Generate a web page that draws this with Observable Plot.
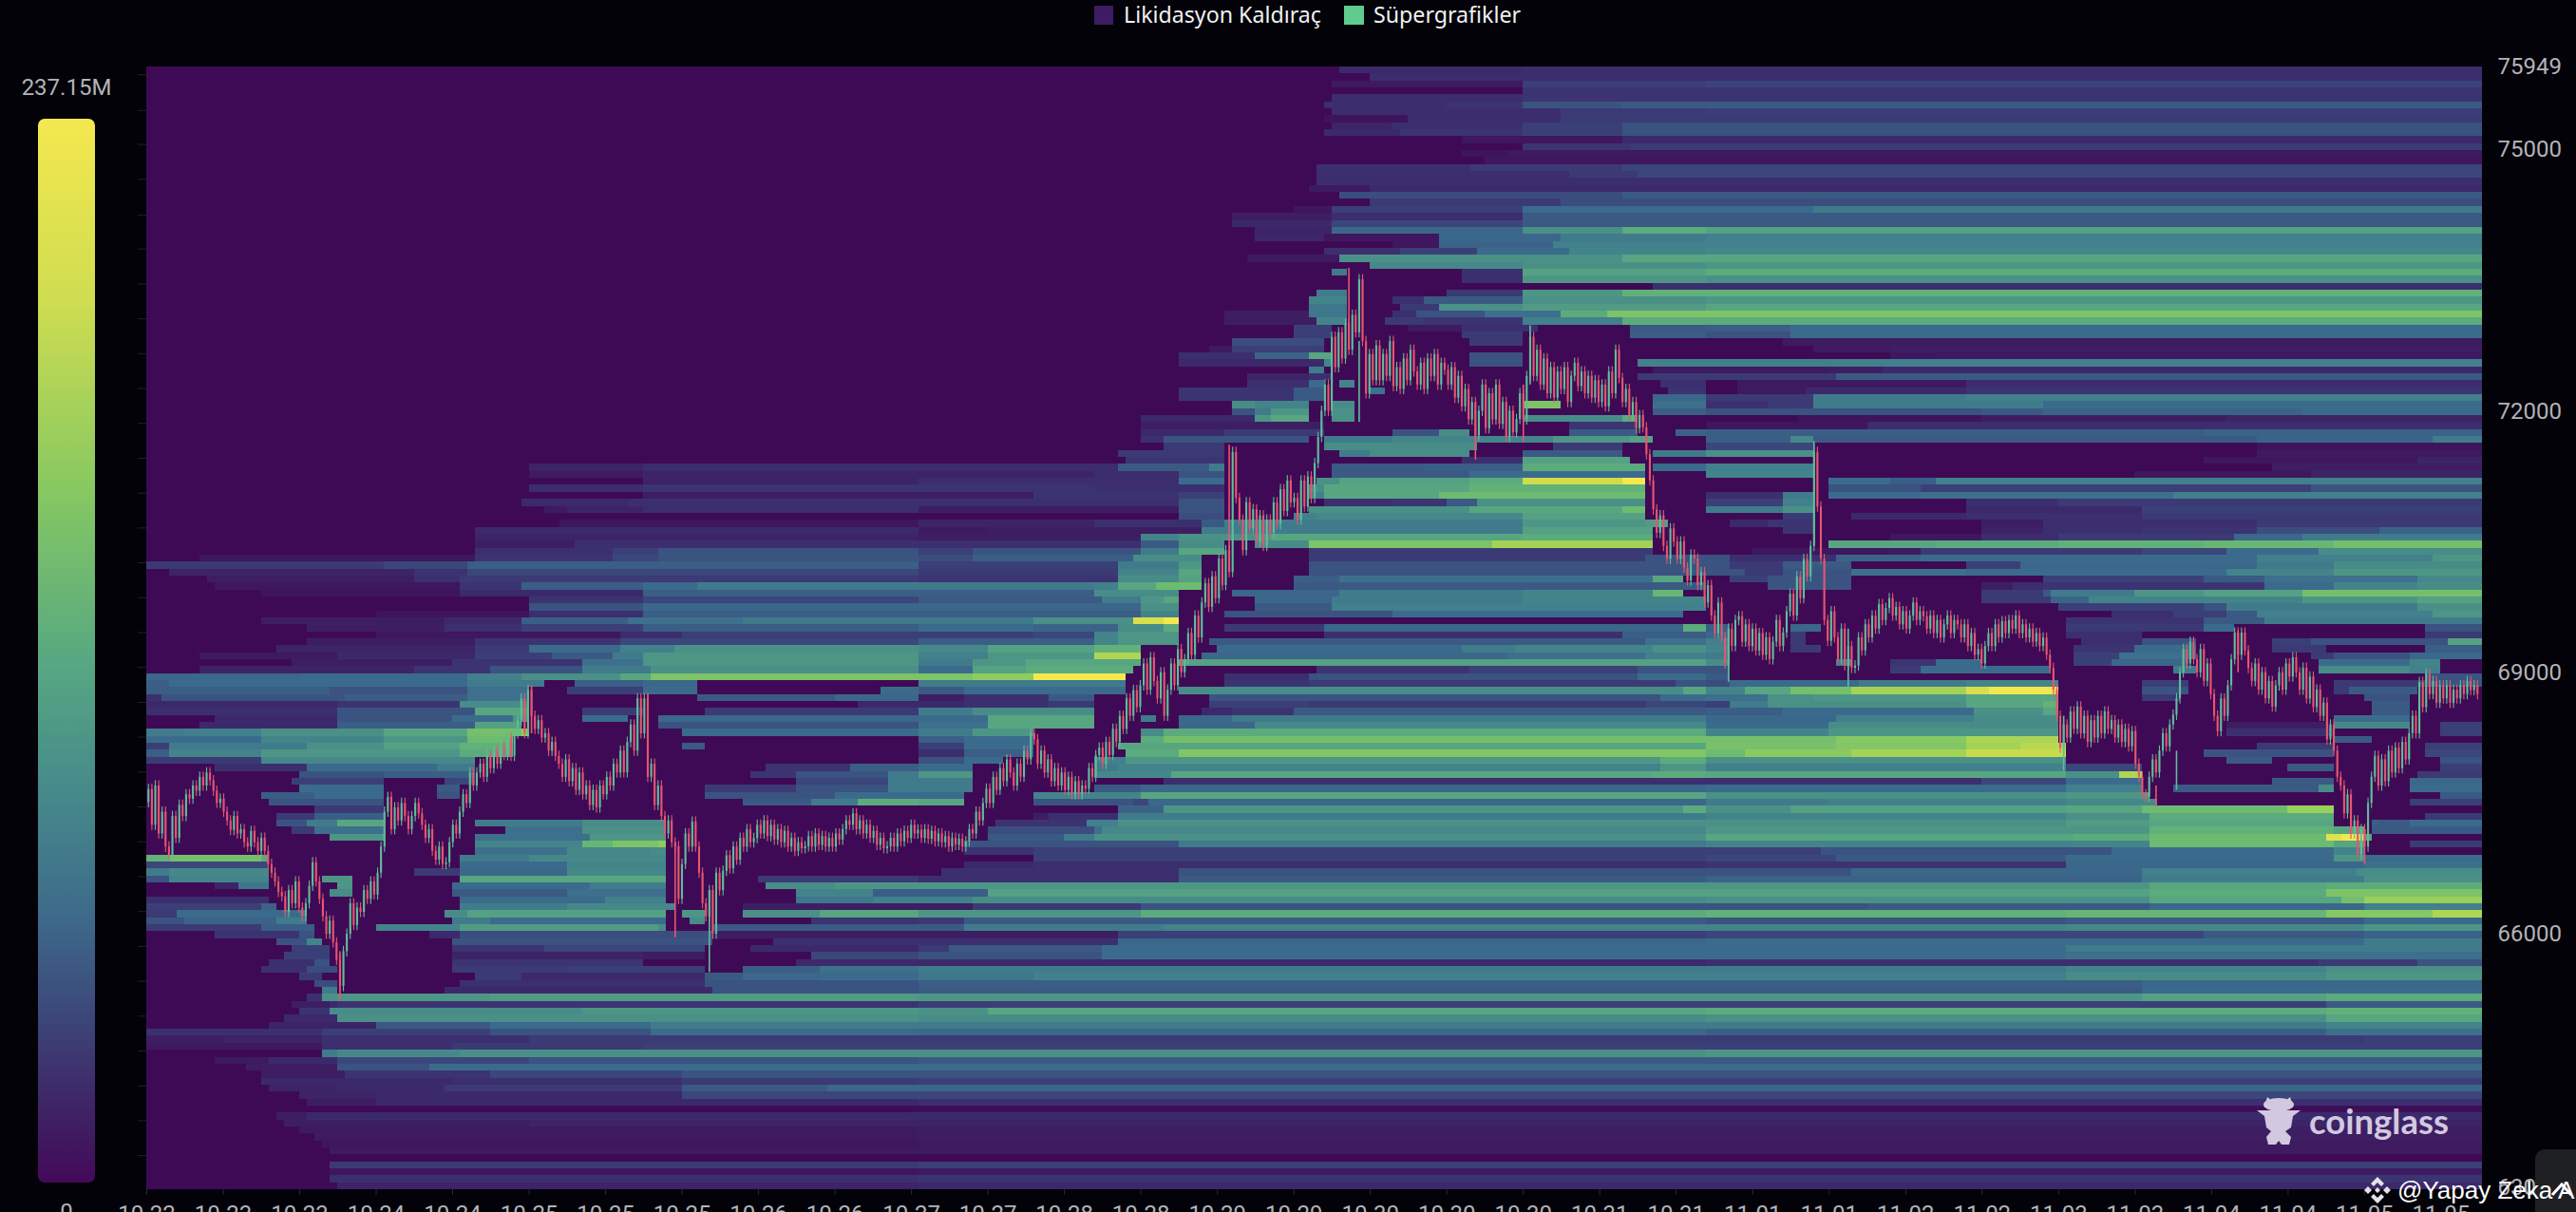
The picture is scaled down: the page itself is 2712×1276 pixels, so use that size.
<!DOCTYPE html>
<html>
<head>
<meta charset="utf-8">
<script src="https://cdn.jsdelivr.net/npm/d3@7"></script>
<script src="https://cdn.jsdelivr.net/npm/@observablehq/plot@0.6"></script>
<style>
html,body{margin:0;padding:0;background:#020208;overflow:hidden}
#page{position:relative;width:2712px;height:1276px;overflow:hidden;background:#020208;font-family:Roboto,sans-serif}
#page>*{position:absolute}
svg{display:block}
</style>
</head>
<body>
<div id="page"></div>
<script>
// Value stops (millions) and colours of the heat scale
const heatStops=[0,12,28,45,65,85,105,125,145,165,190,215,237];
const heatColors=["#3f0a55","#3e1a60","#3c2d6e","#3b3f78","#3a5a84","#3b6b8c","#41808c","#4a9087","#57a681","#6cbb70","#98d05a","#d0dc4b","#f4e84f"];
const barStops=[[0,"#f4e84f"],[.17,"#cfdd50"],[.35,"#86c862"],[.51,"#57a882"],[.63,"#468a8a"],[.75,"#3d6a8a"],[.85,"#3c4478"],[.94,"#3f2063"],[1,"#44095a"]];

const priceTicks=[75949,75000,72000,69000,66000];
const leftTicks=[75860,75450,75060,74660,74250,73860,73460,73060,72660,72260,71860,71460,71060,70660,70260,69860,69460,69060,68660,68260,67860,67460,67060,66660,66260,65860,65460,65060,64660,64260,63860,63460];
const dateLabels=["10-22","10-23","10-23","10-24","10-24","10-25","10-25","10-25","10-26","10-26","10-27","10-27","10-28","10-28","10-29","10-29","10-30","10-30","10-30","10-31","10-31","11-01","11-01","11-02","11-02","11-03","11-03","11-04","11-04","11-05","11-05"];

// Liquidity per price band, top band first: "start:valueM" runs along time (start in tenths of a date tick)
const liquidationBands=[
"0:0 156:25 180:28","0:0 160:28","0:0 155:12 180:45 204:48","0:0 180:35","0:0 155:28 180:35",
"0:0 154:28 170:35 180:60 193:65","0:0 155:28 185:40 204:45","0:0 154:8 165:28 185:42","0:0 155:20 163:30 180:45 193:60","0:0 154:25 164:35 180:45 193:60",
"0:0 172:10 193:25","0:0 180:35 194:42","0:0 172:8 178:12","0:0 175:10","0:0 153:30 173:40 193:50",
"0:0 153:28 186:40 195:50","0:0 153:28","0:0 152:12 160:25","0:0 156:55 193:65","0:0 160:40 185:55",
"0:0 150:10 155:45 180:85 218:100","0:0 142:15 155:28 180:65","0:0 142:25 155:50 180:65","0:0 145:20 155:80 180:125 193:150 204:140","0:0 145:22 154:10 169:80 185:100 204:105",
"0:0 163:10 169:75 184:105","0:0 154:30 164:45 174:85 186:110 204:115","0:0 144:12 156:125 193:145","0:0 160:115 180:125 204:130","0:0 155:100 157:0 172:30 180:140 204:150",
"0:0 172:30 180:130 204:125","0:0 197:30","0:0 153:100 157:0 170:40 180:130 193:155","0:0 152:110 157:0 163:30 167:65 180:125 204:130","0:0 152:95 157:0 164:40 169:125 180:135 204:145",
"0:0 141:15 152:95 157:0 163:30 166:60 175:90 185:150 191:175","0:0 141:15 153:110 157:0 162:40 167:35 180:105 193:150","0:0 150:45 155:0 165:12 172:30 182:0 194:65 204:70 215:85","0:0 150:45 155:0 172:40 180:0 194:70 204:60 215:85","0:0 142:55 154:0 173:40 180:0 214:12",
"0:0 139:12 142:45 154:0 218:12 228:15","0:0 135:30 145:75 152:145 155:0 173:60 180:0 228:10 234:12","0:0 135:25 154:110 155:0 173:60 180:0 195:105","0:0 152:100 154:0 197:12 220:15 227:25","0:0 144:20 152:30 155:0 195:40 221:65",
"0:0 144:30 152:85 154:0 156:110 158:0 198:30 204:0 208:12 238:28","0:0 135:35 150:65 154:0 160:90 162:0 199:35 204:0 208:12 217:25 238:35","0:0 135:35 150:65 154:0 197:80 204:40 218:100 238:105","0:0 142:120 145:110 152:0 155:120 158:0 180:175 185:0 197:90 204:30 212:40 218:100 248:85","0:0 142:60 145:100 147:130 152:0 155:125 158:0 197:70 204:60 240:65 248:75 282:85",
"0:0 130:25 145:130 147:145 152:0 155:125 158:0 180:120 193:150 195:0 216:8 240:15 272:20","0:0 130:15 154:0 186:35 195:0 204:10 225:28","0:0 130:25 141:40 154:0 163:60 169:120 173:0 186:65 195:0 200:75 204:70 269:75","0:0 130:30 133:60 152:0 154:100 163:110 184:130 194:140 197:0 204:70 215:115 218:65 276:75 299:100","0:0 133:40 141:0 154:120 174:0 184:40 193:0 204:50 218:0 276:8",
"0:0 127:40 141:0 156:100 160:120 173:0 180:65 193:0 197:100 204:125 218:0 276:12","0:0 128:35 141:0 172:30 180:140 194:0 269:10 297:20","0:0 50:20 65:28 127:65 139:100 141:0 155:65 167:70 180:150 196:0 197:85 204:105 218:0 278:15","0:0 50:12 65:20 124:28 135:60 141:0 155:65 173:85 196:0 204:110 218:0 260:10 283:20","0:0 65:20 101:28 135:85 141:0 153:125 156:140 173:150 180:215 193:237 196:0 220:85 228:70 234:105",
"0:0 50:28 65:35 124:30 141:0 152:120 154:145 173:155 196:0 220:60 232:45 283:60","0:0 65:15 116:35 135:45 141:0 152:105 154:145 169:165 196:0 204:30 214:100 218:0 220:85 232:90 265:105","0:0 49:25 63:30 135:60 141:0 154:30 163:35 170:65 174:125 196:0 204:45 214:105 218:0 238:30 250:40","0:0 52:12 55:20 65:28 101:15 135:60 141:0 152:125 173:145 193:165 196:0 204:100 214:125 218:0 238:25 261:45","0:0 135:55 141:0 150:105 153:115 180:140 196:0 214:40 218:0 223:25 238:30 261:40",
"0:0 54:10 101:20 124:30 138:65 141:100 180:130 196:135 199:0 207:25 212:35 218:0 240:15 248:30 276:40","0:0 43:25 101:12 110:15 138:100 180:140 197:0 214:35 218:0 240:20 248:30 261:35 276:55 292:75","0:0 43:20 101:15 130:110 135:125 145:130 147:145 180:150 197:0 228:10 240:28 250:40 273:80 282:100","0:0 43:15 56:30 110:30 130:65 135:120 141:0 145:120 152:175 176:195 197:0 220:145 234:150 250:155 269:160 286:170","0:0 43:30 61:45 67:60 101:45 108:60 130:100 135:145 141:0 152:40 197:0 210:10 228:12 232:40 261:50 272:85 284:120",
"0:0 7:10 43:35 61:50 67:60 101:55 108:70 129:120 138:0 152:40 196:60 207:30 221:75 232:85 276:105 299:130","0:40 31:50 42:70 101:45 127:100 135:130 138:0 152:60 197:60 207:40 214:65 223:0 238:45 245:80 276:100 286:120","0:0 3:20 35:35 42:50 101:40 127:110 135:145 138:0 152:60 197:60 209:40 214:60 223:90 238:85 272:110 286:130","0:0 8:15 35:30 41:40 101:35 127:120 135:140 138:0 150:70 156:90 197:145 201:0 207:45 212:60 223:0 248:45 269:65 277:90 297:115","0:0 9:10 41:35 49:70 65:85 72:100 124:105 127:145 132:165 138:0 150:65 197:65 204:0 212:60 223:0 240:15 244:28 248:35 277:85 286:110 297:120",
"0:0 15:8 41:25 65:70 124:120 135:0 142:80 156:100 180:110 197:160 201:0 240:40 248:65 249:100 260:130 269:140 282:170","0:0 50:35 65:50 101:65 125:100 130:130 133:145 135:0 145:80 155:100 180:110 204:0 240:40 249:75 254:110 282:130 297:140","0:0 50:60 65:80 130:125 135:0 145:65 155:105 204:0 250:45 269:60 272:100 297:125","0:0 30:8 50:30 65:70 130:110 135:0 141:60 163:85 201:0 257:30 265:45 272:65 276:105 299:130","0:0 15:15 39:25 49:70 63:90 78:100 116:125 129:220 133:237 135:0 251:35 269:65 277:100",
"0:0 21:15 39:30 49:45 65:70 101:85 116:75 127:120 133:150 135:0 141:40 154:80 201:150 204:70 207:0 215:80 219:0 251:40 269:85 273:0 298:60","0:0 30:10 62:28 70:45 116:50 124:110 127:130 135:0 154:30 193:70 204:80 207:0 215:40 217:0 251:30 261:0 298:40","0:0 21:15 43:35 62:50 101:70 124:110 127:130 135:0 139:65 196:90 204:105 207:0 215:40 217:0 253:30 261:60 268:0 278:45 283:60 301:140","0:0 17:20 43:40 50:85 62:105 69:125 101:115 110:140 124:155 130:0 140:85 172:100 179:110 197:125 204:110 207:0 215:40 219:0 252:35 260:85 268:0 278:40 285:0 298:70","0:0 7:12 25:25 43:45 53:65 61:100 65:130 101:105 110:130 124:200 130:0 138:80 178:90 196:105 204:100 207:0 219:0 252:45 258:90 268:0 283:40 286:60 296:80",
"0:0 19:15 40:35 57:90 65:130 101:100 108:130 115:145 130:0 135:140 204:120 207:0 221:105 223:0 228:35 234:85 240:0 252:45 257:80 267:0 284:85 296:110 300:0","0:0 7:20 35:35 45:60 57:100 66:125 101:85 108:140 115:150 129:0 153:35 173:45 195:60 207:0 228:40 232:85 249:0 265:100 268:0 284:120 296:105 300:0","0:80 20:85 42:105 49:125 62:145 66:175 108:185 116:237 128:0 141:30 152:60 195:85 204:65 207:0 298:60","0:70 3:85 42:100 52:0 56:70 65:80 72:0 101:100 128:0 141:35 152:40 200:60 204:55 207:85 224:100 238:110 250:0 261:45 267:0 286:40 298:60","0:70 24:60 42:90 50:0 55:45 65:85 72:0 96:85 101:65 107:85 128:0 135:120 201:145 204:110 209:145 215:170 223:195 238:220 241:235 250:0 261:60 267:0 286:40 288:65 297:0",
"0:30 2:60 26:70 42:90 50:0 72:65 90:80 101:15 107:30 118:65 124:0 139:60 198:85 204:90 212:125 218:130 238:145 250:0 261:40 266:0 290:60 296:0","0:25 25:35 41:120 50:0 93:25 107:30 118:40 124:0 139:45 152:40 196:50 204:45 207:100 212:125 238:145 248:155 250:0 291:65 296:0","0:30 25:60 43:145 50:0 57:40 65:0 73:40 101:100 108:120 124:0 138:25 142:35 150:65 204:70 214:85 239:125 248:145 250:0 291:65 296:0","0:0 9:25 25:60 40:85 48:130 50:0 57:85 63:0 67:80 101:85 110:145 124:0 130:100 132:0 135:80 142:100 204:80 221:105 239:120 250:0 286:85 296:0","0:0 7:25 25:70 43:140 49:0 67:60 101:90 110:145 124:0 135:80 145:115 204:85 220:120 250:0 272:15 286:115 296:0 300:45",
"0:100 5:105 15:125 31:145 42:170 49:185 50:0 70:85 101:100 108:130 116:0 130:120 133:150 204:110 220:130 250:0 272:30 286:0 300:45","0:85 15:110 31:130 42:165 48:0 101:70 107:85 116:0 130:150 133:170 221:180 238:198 250:0 286:65 291:0","0:45 3:100 21:125 31:140 41:155 48:0 70:65 73:0 101:45 107:85 116:0 127:145 204:172 221:178 238:195 245:205 251:0 276:40 286:0 298:45","0:70 3:110 15:130 41:150 48:0 101:30 107:70 116:0 128:150 135:178 204:165 209:182 223:195 238:212 251:0 269:60 286:0 298:50","0:40 15:115 43:0 101:60 107:85 112:0 124:105 128:130 198:150 204:125 251:0 272:65 278:0 300:60",
"0:0 9:30 21:85 38:100 43:0 81:35 92:70 101:85 108:0 124:100 127:110 198:130 204:105 251:50 261:0 280:65 286:0 300:45","0:0 20:60 31:70 43:0 79:35 85:60 97:100 101:130 108:0 124:115 134:145 197:150 204:145 251:125 258:200 261:0 297:40","0:0 19:45 31:0 39:50 43:0 85:50 97:100 108:0 133:30 204:30 240:50 251:85 261:0 278:65 286:0 296:80","0:0 20:85 31:0 38:65 41:0 73:40 85:60 97:100 108:0 124:65 130:80 204:85 251:105 261:0 265:65 284:120 286:0 296:85","0:0 15:70 22:85 31:0 38:60 41:0 73:60 90:85 107:0 116:110 130:145 204:125 251:130 262:0 300:65",
"0:0 16:60 31:0 78:65 87:100 93:150 101:145 107:0 116:60 129:50 131:80 204:100 220:105 251:115 263:0 296:45","0:0 22:40 31:0 127:75 133:130 201:150 204:125 215:140 251:145 261:165 280:190 286:0","0:0 17:40 22:70 31:0 116:15 118:30 127:100 204:110 251:125 262:150 286:0 298:40","0:0 17:60 21:100 25:145 31:0 43:100 57:120 68:0 111:35 123:105 127:125 251:135 262:145 286:0 291:70 292:65 296:85","0:0 19:40 22:90 31:0 47:90 57:125 68:0 110:55 124:90 125:115 204:130 262:155 286:145 290:0 291:65",
"0:0 24:130 31:0 43:90 58:130 68:0 110:65 120:100 124:125 204:145 252:150 262:165 285:225 287:237 290:145 291:0","0:0 43:110 57:160 61:175 67:185 68:0 107:60 135:100 204:110 262:165 286:145 290:0 296:40","0:0 43:90 55:115 66:120 68:0 107:35 116:45 219:60 257:85 286:110 290:0","0:155 3:170 15:150 16:0 41:100 50:115 68:0 116:45 204:50 221:65 251:85 286:130 290:85","0:50 16:0 41:85 55:110 68:0 107:25 116:30 204:35 251:80 290:90",
"0:100 3:115 16:0 35:40 41:80 55:115 68:0 104:30 135:60 223:80 261:105 289:120","0:60 3:110 16:0 23:130 27:0 41:145 68:0 80:40 101:28 135:65 204:75 261:100 290:125","0:0 9:20 12:95 16:0 25:130 27:0 40:85 58:100 68:0 81:120 90:130 262:145 285:150","0:0 24:120 27:0 40:65 55:90 68:0 85:110 95:70 110:140 262:150 285:175","0:30 16:0 41:85 60:105 68:0 85:95 95:105 108:120 204:125 262:145 287:170 290:190",
"0:45 15:75 17:0 41:100 55:115 69:0 78:15 108:40 130:60 225:65 262:80 290:105","0:40 4:85 20:90 21:0 39:120 42:140 68:0 70:130 73:0 78:125 88:145 101:130 130:150 204:155 251:160 285:180 299:200","0:60 5:75 17:100 21:0 40:100 45:85 68:0 71:120 73:0 87:35 101:40 107:65 204:60 251:65 290:85","0:40 15:70 22:0 30:110 41:135 67:120 68:0 74:65 107:100 133:110 251:115 290:130","0:0 9:35 20:60 22:0 37:25 41:55 74:15 127:45 204:50 269:65 290:75",
"0:0 17:60 21:110 23:0 40:60 74:0 82:30 127:80 204:85 290:100","0:0 19:45 24:0 40:35 52:50 73:0 79:25 101:40 105:65 125:85 251:100","0:0 18:45 24:0 40:20 65:15 73:0 87:50 101:60 125:85 251:90","0:0 16:30 22:60 24:0 40:35 65:0 85:25 204:30 284:40 297:60","0:0 15:30 21:55 25:0 40:40 55:45 73:0 78:70 88:90 101:100 251:110 285:125",
"0:0 20:40 23:0 43:40 49:25 73:65 78:80 88:85 101:95 116:105 251:120 285:130","0:0 22:55 25:0 41:30 73:60 101:70 261:80","0:0 23:100 25:0 39:25 74:60 101:65 261:85","0:0 21:30 23:125 25:130 45:135 101:130 261:140 285:150","0:0 19:15 24:25 25:35 101:45 285:65",
"0:0 20:35 24:120 57:130 101:125 110:145 204:150 285:155","0:0 18:25 25:125 101:120 204:125 285:145","0:0 16:20 30:65 45:85 66:100 285:110","0:30 23:45 45:60 66:85 101:80 204:70 285:90","0:15 10:20 23:30 50:40 290:45",
"0:12 23:30 40:40 65:45","0:0 23:100 25:115 41:125 204:130","0:0 9:12 16:25 25:50 50:60 101:65","0:0 13:15 25:60 37:85","0:0 15:15 26:35 45:50 70:60",
"0:0 15:25 40:30 70:40 101:45","0:0 16:20 25:25 39:40 70:65 89:80","0:0 20:20 30:25 70:50","0:0 21:15 30:25 101:30","0:0 100:3",
"0:0 17:15 21:25","0:0 18:15 50:20","0:0 20:12 101:15","0:0 22:12 101:15","0:0 23:10 101:12",
"0:0 24:12","0:0","0:0 24:40 101:45","0:0 24:10 101:12","0:0 24:30 101:35","0:0 25:20 101:25"
];
const topPrice=75949, bandSize=80, bottomPrice=63069;

// Half-hour closes in blocks (block start index, closes)
const candleRuns=[
[0,[67660,67250,67700,67150,67400,67000,66900,67350,67100,67480,67350,67600,67550,67700,67640,67800,67700,67850,67760,67640,67500,67550,67400,67300,67190,67350,67150,67200,67050,67000,67180,67050,66950,67100,66950,66800,66700,66600,66480,66430]],
[40,[66250,66500,66350,66600,66300,66200,66350,66550,66820,66600,66400,66200,66000,66150,65900,65700,65400,65800,66000,66350,66100,66300,66250,66500,66400,66600,66450,66700,67000,67400,67570,67200,67450,67300,67500,67350,67200,67350,67500,67380]],
[80,[67250,67100,67200,66950,66850,67000,66800,66820,67050,67250,67150,67400,67600,67500,67850,67700,67850,67950,67800,68050,67900,68100,67950,68150,68050,68250,68040,68300,68450,68700,68300,68795,68500,68350,68450,68250,68300,68100,68200,68040]],
[120,[67950,67800,68000,67750,67900,67650,67850,67600,67700,67476,67650,67450,67700,67600,67800,67700,67950,67850,68100,67852,68200,68400,68100,68700,68300,68701,67800,67950,67476,67700,67350,67150,67300,67050,67004,66400,66800,67150,67000,67287]],
[160,[67000,66700,66350,66200,66500,66000,66700,66500,66721,66900,66750,67000,66850,67100,67000,67200,67050,67098,67250,67150,67300,67120,67250,67080,67200,67050,67180,67000,67100,66950,67050,66980,67004,67120,67000,67150,67020,67120,67000,67100]],
[200,[67000,67150,67080,67200,67300,67250,67381,67200,67300,67150,67250,67100,67180,67020,67100,66980,67004,67100,67000,67150,67060,67180,67100,67250,67150,67193,67100,67200,67090,67180,67060,67150,67050,67120,67000,67100,67020,67090,67000,67061]],
[240,[67200,67150,67400,67300,67500,67664,67500,67800,67650,67900,67750,68000,67850,67700,67950,67800,68100,68000,68300,68230,67950,68100,67850,68000,67750,67900,67700,67850,67650,67800,67600,67750,67600,67700,67664,67900,67800,68050,68135,67950]],
[280,[68200,68050,68350,68200,68500,68350,68700,68500,68795,68600,68850,69100,68800,69172,68900,68700,69000,68500,68800,69100,68850,69266,69000,69150,69450,69200,69650,69400,69800,70020,69750,70100,69850,70303,70000,70400,70150,71528,71000,70750]],
[320,[70400,70950,70650,70869,70500,70800,70450,70750,70600,70950,70700,71100,70850,71200,70950,71000,70750,71200,70900,71246,71000,71400,71700,71999,72300,72000,72848,72500,72900,72600,73000,72700,73100,72900,73508,72800,72200,72650,72350,72750]],
[360,[72350,72650,72400,72800,72282,72500,72250,72600,72350,72700,72450,72300,72550,72250,72600,72400,72650,72300,72550,72471,72300,72500,72150,72400,72050,72250,71900,72100,71716,72000,72300,71800,72200,71900,72300,71850,72100,71700,72000,71750]],
[400,[71905,72200,71900,72400,72848,72400,72700,72300,72600,72200,72500,72150,72450,72250,72500,72100,72400,72550,72282,72450,72200,72400,72150,72350,72100,72300,72050,72450,72200,72700,72376,72100,72250,71950,72100,71800,71950,71811,71500,71200]],
[440,[70869,70600,70800,70450,70300,70650,70500,70300,70500,70200,70050,70350,70303,70000,70150,69800,70000,69650,69450,69800,69400,69100,69500,69300,69600,69643,69350,69550,69300,69500,69250,69450,69200,69400,69150,69350,69600,69300,69455,69700]],
[480,[69900,69650,70100,69850,70300,70100,70450,71528,70900,70300,69600,69360,69700,69400,69150,69500,69078,69300,69050,69078,69400,69250,69550,69400,69650,69500,69780,69600,69737,69850,69650,69750,69550,69700,69500,69650,69800,69600,69700,69643]],
[520,[69500,69650,69450,69600,69400,69549,69650,69450,69600,69549,69400,69550,69300,69450,69200,69266,69100,69300,69450,69300,69550,69400,69586,69450,69600,69500,69650,69450,69550,69400,69500,69350,69450,69300,69398,69200,69050,68800,68500,68135]],
[560,[68400,68250,68550,68350,68606,68300,68500,68200,68450,68250,68500,68300,68550,68350,68450,68250,68400,68200,68350,68150,68324,67950,67800,67600,67570,67800,68000,67850,68100,68300,68150,68400,68512,68700,69000,69266,69100,69350,69150,69000]],
[600,[69266,68900,69100,68750,68500,68324,68700,68500,68850,69150,69455,69200,69455,69250,69050,68900,69100,68800,69000,68700,68900,68606,68850,69000,68800,69100,68950,69172,69000,68800,69050,68700,68950,68600,68800,68500,68650,68230,68400,68100]],
[640,[67800,67700,67381,67600,67150,67300,66910,67200,67000,67500,67800,68041,67700,68000,67750,68100,67850,68135,67900,68200,68000,68300,68500,68300,68889,68600,68984,68750,68900,68650,68850,68700,68850,68650,68800,68700,68850,68750,68900,68795,68850,68750]]
];
// Long wicks: candle index, low, high
const candleWicks=[[56,65240,65800],[112,68300,68840],[146,67800,68760],[154,65960,67050],[164,65560,66500],[316,70210,71610],[351,72900,73640],[354,71870,72800],[388,71440,72000],[402,71640,72300],[404,72300,72980],[462,68890,69500],[487,70450,71650],[497,68820,69500],[560,67870,68500],[587,67460,67700],[593,67650,68100],[611,69000,69480],[648,66800,67200]];

const candles=[];
for(const [start,closes] of candleRuns){closes.forEach((close,j)=>{const c=start+j;const open=c===0?close-150:candles[candles.length-1].close;candles.push({c,open,close,up:close>=open});});}
const candleById=new Map(candles.map(d=>[d.c,d]));
const green="#5fbd9a", red="#e6566f", wickPad=60;

const perTenth=8.05/3.6; // candles per tenth of a date tick
const xEnd=2458.6/3.6;
const heatCells=[];
liquidationBands.forEach((row,i)=>{
  const runs=row.split(" ").map(s=>s.split(":").map(Number));
  runs.forEach(([t,v],k)=>{
    const next=k+1<runs.length?runs[k+1][0]*perTenth:xEnd;
    heatCells.push({x1:t*perTenth,x2:next,y1:topPrice-i*bandSize,y2:Math.max(bottomPrice,topPrice-(i+1)*bandSize),v});
  });
});
const dateTicks=dateLabels.map((l,i)=>i*10*perTenth);

const axisColor="#b3b3b8";
const chart=Plot.plot({
  width:2712,height:1276,
  marginLeft:154,marginRight:99,marginTop:70,marginBottom:24,
  style:{background:"transparent",fontFamily:"Roboto, sans-serif",fontSize:"24px"},
  x:{domain:[0,xEnd],axis:null},
  y:{domain:[bottomPrice,topPrice],axis:null},
  color:{type:"linear",domain:heatStops,range:heatColors,clamp:true},
  marks:[
    Plot.rect(heatCells,{x1:"x1",x2:"x2",y1:"y1",y2:"y2",fill:"v",shapeRendering:"crispEdges"}),
    Plot.ruleX(candleWicks,{x:d=>d[0]+.5,y1:d=>d[1],y2:d=>d[2],strokeWidth:1.6,stroke:{value:d=>{const k=candleById.get(d[0]);return k&&k.up?green:red},scale:null}}),
    Plot.ruleX(candles,{x:d=>d.c+.5,y1:d=>Math.min(d.open,d.close)-wickPad,y2:d=>Math.max(d.open,d.close)+wickPad,strokeWidth:1.1,stroke:{value:d=>d.up?green:red,scale:null}}),
    Plot.ruleX(candles,{x:d=>d.c+.5,y1:"open",y2:"close",strokeWidth:2.1,stroke:{value:d=>d.up?green:red,scale:null}}),
    Plot.axisY({anchor:"right",ticks:priceTicks,tickSize:0,tickPadding:16,textAnchor:"start",tickFormat:d=>String(d),fill:axisColor,fontSize:24}),
    Plot.axisY({anchor:"left",ticks:leftTicks,tickSize:9,tickFormat:()=>"",stroke:"#202026"}),
    Plot.axisX({anchor:"bottom",ticks:dateTicks,tickSize:6,tickPadding:10,stroke:"#2a2a30",fill:axisColor,fontSize:24,tickFormat:(d,i)=>dateLabels[i]}),
    Plot.text(["63000"],{x:()=>xEnd,y:()=>63069,dx:16,dy:-2,textAnchor:"start",fill:axisColor,fontSize:24})
  ]
});
const page=document.getElementById("page");
chart.style.left="0";chart.style.top="0";
page.appendChild(chart);

function add(css,html){const d=document.createElement("div");d.style.cssText=css;d.innerHTML=html||"";page.appendChild(d);return d;}
// Legend
add("left:1152px;top:6px;width:20px;height:20px;background:#3d1c63");
add("left:1183px;top:0;font:23.2px/30px 'Noto Sans';color:#f0f0f2;white-space:nowrap","Likidasyon Kaldıraç");
add("left:1415px;top:6px;width:21px;height:20px;background:#5fcb8f");
add("left:1446px;top:0;font:23.2px/30px 'Noto Sans';color:#f0f0f2;white-space:nowrap","Süpergrafikler");
// Colour bar
add("left:40px;top:125px;width:60px;height:1120px;border-radius:7px;background:linear-gradient(to bottom,"+barStops.map(s=>s[1]+" "+s[0]*100+"%").join(",")+")");
add("left:0;top:78px;width:140px;text-align:center;font:24px/28px Roboto;color:#b3b3b8","237.15M");
add("left:0;top:1262px;width:140px;text-align:center;font:24px/28px Roboto;color:#b3b3b8","0");
// Watermark
add("left:2376px;top:1155px;width:46px;height:50px",
 '<svg width="46" height="50" viewBox="0 0 46 50"><g fill="#d2c8e0"><ellipse cx="23" cy="8" rx="16" ry="7"/><path d="M0 14 L46 14 L38 20 L36 32 L30 36 L36 42 L34 50 L26 50 L23 46 L20 50 L12 50 L10 42 L15 36 L10 32 L8 20Z"/><path d="M9 6 L11 0 L16 4Z M37 6 L35 0 L30 4Z"/></g></svg>');
add("left:2431px;top:1158px;font:700 36.5px/44px Lato;color:#d2c8e0;white-space:nowrap","coinglass");
// Corner badge
add("left:2669px;top:1210px;width:60px;height:80px;background:#1f2024;border-radius:10px");
add("left:2488px;top:1238px;width:30px;height:30px",
 '<svg width="30" height="30" viewBox="0 0 30 30" fill="#e2e2e6"><path d="M15 1 L22 8 L19 11 L15 7 L11 11 L8 8Z M15 29 L22 22 L19 19 L15 23 L11 19 L8 22Z M5 11 L9 15 L5 19 L1 15Z M25 11 L29 15 L25 19 L21 15Z M15 12 L18 15 L15 18 L12 15Z"/></svg>');
add("left:2524px;top:1238px;font:26px/30px 'Liberation Sans';color:#fff;white-space:nowrap","@Yapay Zeka AI");
add("left:2684px;top:1240px;width:26px;height:26px",
 '<svg width="26" height="26" viewBox="0 0 26 26"><path d="M3 18 L13 7 L23 18" fill="none" stroke="#fff" stroke-width="3"/></svg>');
</script>
</body>
</html>
